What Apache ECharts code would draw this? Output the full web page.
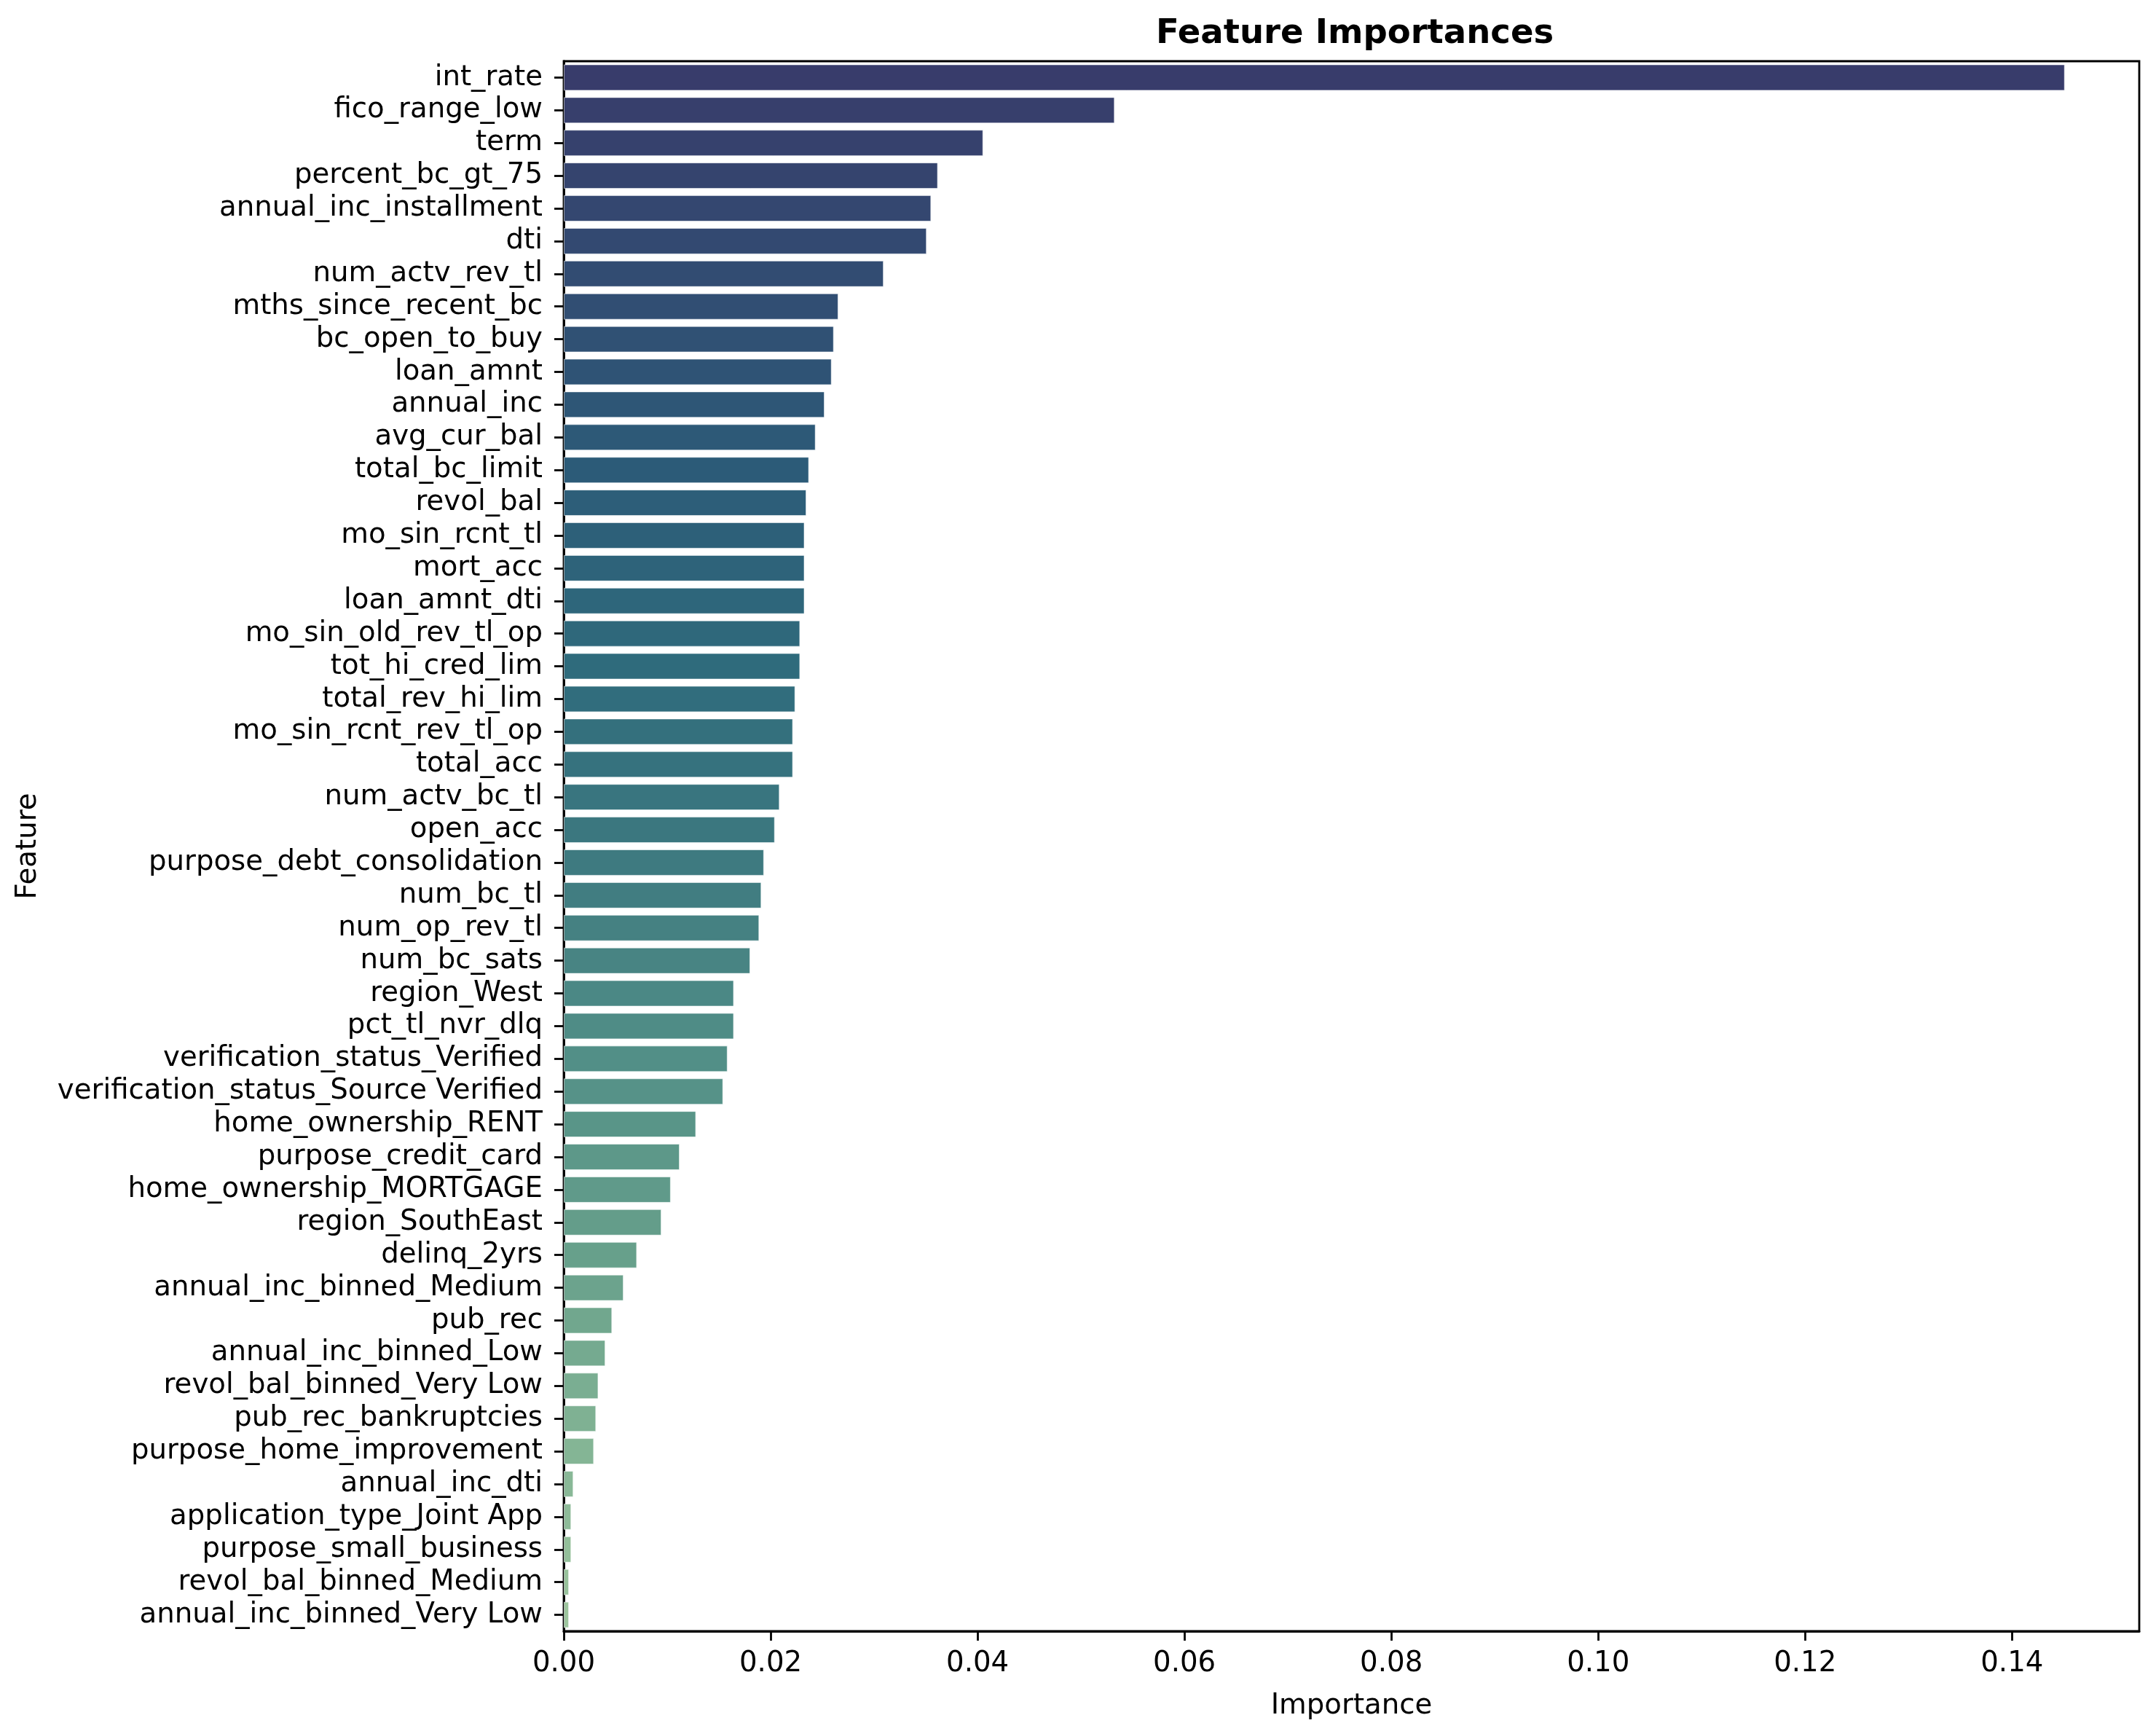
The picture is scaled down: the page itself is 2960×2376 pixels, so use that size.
<!DOCTYPE html>
<html>
<head>
<meta charset="utf-8">
<script src="https://cdn.jsdelivr.net/npm/echarts@6/dist/echarts.min.js"></script>
<style>
html,body{margin:0;padding:0;background:#fff;}
#chart{width:2960px;height:2376px;}
</style>
</head>
<body>
<div id="chart"></div>
<script>
const features = [
  "int_rate","fico_range_low","term","percent_bc_gt_75","annual_inc_installment","dti",
  "num_actv_rev_tl","mths_since_recent_bc","bc_open_to_buy","loan_amnt","annual_inc","avg_cur_bal",
  "total_bc_limit","revol_bal","mo_sin_rcnt_tl","mort_acc","loan_amnt_dti","mo_sin_old_rev_tl_op",
  "tot_hi_cred_lim","total_rev_hi_lim","mo_sin_rcnt_rev_tl_op","total_acc","num_actv_bc_tl","open_acc",
  "purpose_debt_consolidation","num_bc_tl","num_op_rev_tl","num_bc_sats","region_West","pct_tl_nvr_dlq",
  "verification_status_Verified","verification_status_Source Verified","home_ownership_RENT","purpose_credit_card","home_ownership_MORTGAGE","region_SouthEast",
  "delinq_2yrs","annual_inc_binned_Medium","pub_rec","annual_inc_binned_Low","revol_bal_binned_Very Low","pub_rec_bankruptcies",
  "purpose_home_improvement","annual_inc_dti","application_type_Joint App","purpose_small_business","revol_bal_binned_Medium","annual_inc_binned_Very Low"
];
const importances = [
  0.1451,0.05325,0.04054,0.03616,0.03551,0.03508,
  0.03092,0.02654,0.0261,0.02589,0.02521,0.02434,
  0.0237,0.02345,0.02327,0.02327,0.02327,0.02284,
  0.02284,0.02237,0.02215,0.02215,0.02086,0.0204,
  0.01935,0.0191,0.01889,0.01802,0.01644,0.01644,
  0.01583,0.0154,0.01278,0.0112,0.01034,0.00944,
  0.00707,0.00578,0.00467,0.00402,0.00334,0.00312,
  0.00291,0.00093,0.00072,0.00072,0.0005,0.0005
];
const xTicks = [0,0.02,0.04,0.06,0.08,0.10,0.12,0.14];

// colour stops (position 0..1 along the bar order)
const colorStops = [
  [0.0,'#383c6b'],[0.128,'#324c72'],[0.255,'#2c5b78'],[0.383,'#2f6b7c'],
  [0.511,'#3e7a80'],[0.638,'#528f87'],[0.766,'#67a08b'],[0.894,'#84b595'],[1.0,'#9dc59e']
];
function hex2rgb(h){return [parseInt(h.slice(1,3),16),parseInt(h.slice(3,5),16),parseInt(h.slice(5,7),16)];}
function colorAt(t){
  for(let i=0;i<colorStops.length-1;i++){
    const [a,ca]=colorStops[i],[b,cb]=colorStops[i+1];
    if(t>=a && t<=b){
      const f=(t-a)/(b-a), A=hex2rgb(ca), B=hex2rgb(cb);
      const c=A.map((v,k)=>Math.round(v+(B[k]-v)*f));
      return 'rgb('+c.join(',')+')';
    }
  }
  return colorStops[colorStops.length-1][1];
}
const n = features.length;
const barData = importances.map((v,i)=>({
  value:v,
  itemStyle:{color:colorAt(i/(n-1))}
}));

const FONT = 'DejaVu Sans';
const FS = 38.7;
const chart = echarts.init(document.getElementById('chart'), null, {renderer:'canvas'});
chart.setOption({
  animation:false,
  backgroundColor:'#ffffff',
  title:{
    text:'Feature Importances',
    left:1855, top:18, textAlign:'center',
    textStyle:{fontFamily:FONT,fontSize:46.5,fontWeight:'bold',color:'#000'}
  },
  grid:{
    left:774, right:23, top:84, bottom:137,
    show:true, borderColor:'#000', borderWidth:2.8, backgroundColor:'transparent'
  },
  xAxis:{
    type:'value', min:0, max:0.1523, interval:0.02,
    name:'Importance', nameLocation:'middle', nameGap:83,
    nameTextStyle:{fontFamily:FONT,fontSize:FS,color:'#000'},
    axisLine:{show:true,lineStyle:{color:'#000',width:2.8}},
    axisTick:{show:true,length:13,lineStyle:{color:'#000',width:2.8}},
    splitLine:{show:false},
    axisLabel:{
      fontFamily:FONT,fontSize:FS,color:'#000',margin:25,showMaxLabel:false,
      formatter:function(v){
        for(const t of xTicks){ if(Math.abs(v-t)<1e-9) return t.toFixed(2); }
        return '';
      }
    }
  },
  yAxis:{
    type:'category', data:features, inverse:true,
    name:'Feature', nameLocation:'middle', nameGap:716,
    nameTextStyle:{fontFamily:FONT,fontSize:FS,color:'#000'},
    axisLine:{show:true,lineStyle:{color:'#000',width:2.8}},
    axisTick:{show:true,alignWithLabel:true,length:13,lineStyle:{color:'#000',width:2.8}},
    axisLabel:{fontFamily:FONT,fontSize:FS,color:'#000',margin:29,interval:0}
  },
  series:[{
    type:'bar',
    data:barData,
    barWidth:'80%',
    itemStyle:{borderColor:'rgba(255,255,255,0.55)',borderWidth:1}
  }]
});
</script>
</body>
</html>
